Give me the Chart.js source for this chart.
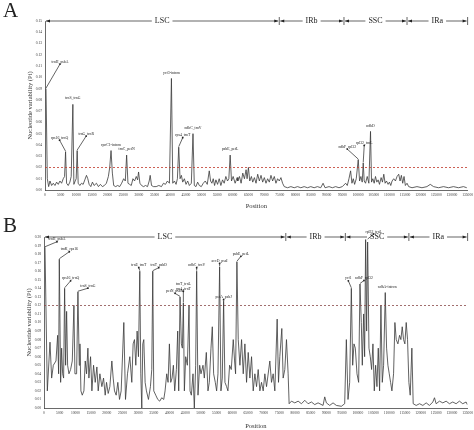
<!DOCTYPE html>
<html><head><meta charset="utf-8">
<script src="https://cdn.jsdelivr.net/npm/chart.js@4.4.0/dist/chart.umd.min.js"></script>
<style>
body{margin:0;background:#fff;width:474px;height:430px;position:relative;overflow:hidden;font-family:"Liberation Serif",serif}
.pl{position:absolute;left:3px;font-size:21px;font-family:"Liberation Serif",serif;color:#222;z-index:2}
.box{position:absolute;left:0;width:474px}
</style></head><body>
<div class="pl" style="top:-2px">A</div>
<div class="pl" style="top:213px">B</div>
<div class="box" style="top:0;height:210px"><canvas id="cA"></canvas></div>
<div class="box" style="top:215px;height:215px"><canvas id="cB"></canvas></div>
<script>
// ---------- Panel A data ----------
const posA=[318,742,1166,1590,2120,2650,3180,3710,4240,4770,5300,5830,6254,6572,6890,7420,7950,8374,8904,9222,9646,9964,10282,10600,11130,11660,12190,12720,13250,13674,14098,14628,15158,15688,16430,17066,17702,18338,18974,19610,20246,20670,21094,21518,21942,22578,23214,23850,24486,25122,25652,26076,26500,27030,27560,28090,28620,29150,29574,29892,30316,30846,31482,32118,32754,33284,33602,34026,34662,35510,36358,37206,37842,38478,39114,39750,40386,40810,41340,41870,42294,42718,43142,43566,43990,44520,45050,45580,46110,46746,47276,47700,48230,48760,49290,49926,50562,51198,51834,52470,52894,53318,53742,54166,54590,55120,55650,56180,56710,57240,57770,58300,58724,59148,59572,60102,60738,61374,61586,62116,62646,63176,63706,64236,64554,64978,65402,65932,66356,66886,67416,67946,68476,69006,69536,70066,70596,71126,71656,72186,72716,73246,73776,74306,74836,75366,75896,76426,77486,78546,79606,80666,81726,82786,83846,84906,85966,87026,88086,88828,89464,90736,91796,92856,93916,94976,96036,96566,97096,97626,98050,98474,98898,99428,100064,100488,100912,101336,101654,101972,102396,102926,103456,103986,104304,104728,105152,105576,106000,106424,106848,107378,107802,108226,108650,109074,109604,110028,110452,110876,111406,111936,112466,112996,113420,113844,114268,114692,115116,115646,116176,117236,118826,120416,122006,123066,124126,125716,127306,128896,130486,132076,133666,134726];
const piA=[0.09,0.01,0.003,0.008,0.004,0.006,0.004,0.007,0.005,0.008,0.006,0.01,0.012,0.034,0.006,0.004,0.007,0.012,0.076,0.005,0.008,0.01,0.035,0.006,0.004,0.006,0.005,0.009,0.013,0.01,0.005,0.003,0.007,0.004,0.006,0.003,0.005,0.003,0.004,0.006,0.012,0.02,0.035,0.015,0.004,0.003,0.004,0.003,0.006,0.01,0.008,0.031,0.006,0.005,0.004,0.01,0.008,0.012,0.009,0.016,0.006,0.004,0.003,0.004,0.003,0.008,0.013,0.004,0.003,0.003,0.004,0.003,0.006,0.005,0.008,0.006,0.099,0.006,0.008,0.005,0.01,0.038,0.01,0.013,0.007,0.01,0.005,0.008,0.004,0.006,0.05,0.004,0.003,0.007,0.004,0.003,0.006,0.008,0.005,0.017,0.008,0.006,0.01,0.004,0.009,0.005,0.01,0.004,0.009,0.006,0.012,0.008,0.01,0.031,0.008,0.012,0.006,0.011,0.008,0.012,0.006,0.015,0.01,0.018,0.01,0.02,0.008,0.012,0.007,0.011,0.006,0.014,0.008,0.013,0.007,0.011,0.006,0.01,0.007,0.013,0.008,0.012,0.006,0.01,0.008,0.011,0.006,0.003,0.002,0.003,0.002,0.003,0.002,0.003,0.002,0.003,0.002,0.003,0.002,0.006,0.002,0.003,0.002,0.003,0.002,0.003,0.006,0.004,0.01,0.017,0.006,0.01,0.005,0.01,0.027,0.008,0.012,0.007,0.024,0.008,0.006,0.012,0.006,0.052,0.007,0.01,0.006,0.012,0.007,0.009,0.005,0.011,0.007,0.014,0.006,0.008,0.005,0.007,0.004,0.008,0.01,0.008,0.012,0.014,0.008,0.013,0.006,0.012,0.004,0.006,0.003,0.002,0.003,0.002,0.003,0.005,0.003,0.002,0.003,0.002,0.003,0.002,0.003,0.002];
const regionsA=[0,74836,95506,115646,135000];
const labelsA=[["trnH_psbA",318,0.09,14,-25,1],["rps16_trnQ",6572,0.034,-6,-12,1],["trnS_trnG",8904,0.076,0,-4,0],["trnG_trnR",10282,0.035,9,-15,1],["rpoC1-intron",21094,0.035,0,-4,0],["trnC_petN",26076,0.031,0,-4,0],["ycf3-intron",40386,0.099,0,-4,0],["rps4_trnT",42718,0.038,4,-10,1],["ndhC_trnV",47276,0.05,0,-4,0],["psbE_petL",59148,0.031,0,-4,0],["ndhF_rpl32",100064,0.027,-11,-11,1],["rpl32_trnL",101654,0.024,1,-18,1],["ndhD",103986,0.052,0,-4,0]];
// ---------- Panel B data ----------
const posB=[318,1060,1908,2438,2968,3816,4346,4664,4876,5300,5618,5936,6254,6572,6890,7208,7526,7950,8480,9010,9540,9858,10388,10812,11236,11448,11766,12190,12720,13144,13568,13992,14310,14840,15264,15794,16324,16854,17278,17808,18444,18974,19504,19928,20458,20988,21624,22048,22472,23002,23532,24062,24592,25440,25970,26606,27348,27984,28408,28832,29256,29680,30104,30528,30846,31164,31482,31800,32224,32648,33284,33920,34344,34662,34980,35616,36252,36888,37524,38160,38584,39114,39538,39962,40386,40810,41234,41658,42188,42612,42930,43354,43778,44096,44414,44732,45156,45686,46216,46534,46958,47488,47912,48336,48654,49078,49608,50032,50668,51092,51728,52258,52682,53212,53636,54060,54590,55014,55438,55968,56392,56816,57240,57664,58194,58618,59148,59678,60314,60738,61056,61480,61904,62434,62964,63494,64024,64554,65084,65614,66144,66674,67204,67734,68264,68794,69324,69854,70384,70914,71974,72504,73034,73564,74306,74730,75154,75790,76214,76744,77274,77804,78122,78864,79924,80984,82044,83104,84164,85224,86284,87344,88934,89464,89994,91054,92114,93174,94764,95824,96354,96884,97414,97944,98368,98792,99216,99746,100276,100700,101124,101442,101866,102184,102502,102820,103138,103562,103986,104410,104834,105258,105682,106106,106530,106954,107378,107802,108226,108756,109180,109604,110028,110452,110876,111406,111830,112254,112784,113314,113738,114162,114586,115010,115434,115858,116282,116706,117236,117660,118614,119674,120734,121794,122854,123914,124444,124974,126034,127094,128154,129214,130274,131334,132394,133454,134514,134900];
const piB=[0.188,0.02,0.077,0.035,0.05,0.055,0.085,0.04,0.174,0.03,0.07,0.04,0.035,0.14,0.05,0.113,0.05,0.04,0.045,0.055,0.12,0.04,0.04,0.136,0.05,0.075,0.02,0.015,0.02,0.055,0.04,0.07,0.035,0.06,0.02,0.05,0.03,0.048,0.02,0.04,0.025,0.035,0.015,0.03,0.017,0.025,0.055,0.035,0.02,0.015,0.03,0.01,0.02,0.1,0.01,0.04,0.06,0.03,0.075,0.08,0.05,0.09,0.06,0.16,0.04,0.0,0.075,0.08,0.03,0.02,0.01,0.025,0.045,0.16,0.02,0.015,0.01,0.008,0.012,0.01,0.02,0.04,0.03,0.075,0.03,0.035,0.05,0.02,0.045,0.09,0.02,0.13,0.075,0.07,0.123,0.02,0.06,0.05,0.12,0.02,0.015,0.04,0.0,0.05,0.16,0.015,0.05,0.04,0.05,0.035,0.065,0.02,0.03,0.07,0.095,0.04,0.03,0.02,0.04,0.165,0.02,0.035,0.125,0.03,0.025,0.02,0.05,0.045,0.08,0.055,0.04,0.171,0.08,0.05,0.08,0.04,0.075,0.03,0.065,0.035,0.06,0.02,0.04,0.025,0.045,0.02,0.03,0.02,0.04,0.025,0.055,0.03,0.04,0.02,0.104,0.03,0.06,0.093,0.035,0.045,0.08,0.04,0.005,0.008,0.006,0.008,0.005,0.009,0.005,0.007,0.004,0.006,0.003,0.013,0.006,0.003,0.006,0.003,0.002,0.005,0.08,0.01,0.03,0.14,0.05,0.075,0.07,0.04,0.03,0.145,0.1,0.05,0.11,0.06,0.197,0.09,0.197,0.07,0.06,0.045,0.075,0.02,0.05,0.025,0.07,0.02,0.12,0.03,0.05,0.135,0.07,0.05,0.04,0.03,0.02,0.04,0.1,0.08,0.075,0.085,0.08,0.095,0.08,0.075,0.1,0.08,0.03,0.015,0.07,0.005,0.003,0.005,0.003,0.006,0.003,0.007,0.012,0.005,0.008,0.006,0.008,0.005,0.007,0.005,0.008,0.005,0.007,0.004];
const regionsB=[0,77062,96036,116282,135000];
const labelsB=[["trnH_psbA",318,0.188,12,-6,1],["trnK_rps16",4876,0.174,10,-8,1],["rps16_trnQ",6572,0.14,6,-8,1],["trnS_trnG",10812,0.136,10,-4,1],["trnE_trnT",30528,0.16,-1,-4,1],["trnT_psbD",34662,0.16,6,-4,1],["petN_psbM",43354,0.13,-5,-4,1],["trnT_trnL\nrps4_trnT",44414,0.123,0,-12,1],["ndhC_trnV",48654,0.16,0,-4,1],["accD_psaI",55968,0.165,0,-4,1],["petA_psbJ",57240,0.125,0,-2,1],["psbE_petL",61480,0.171,4,-6,1],["ycf1",97944,0.14,-3,-8,1],["ndhF_rpl32",100700,0.145,4,-4,1],["rpl32_trnL",103138,0.197,6,-6,1],["ndhA-intron",108756,0.135,2,-4,0]];
const regionNames=["LSC","IRb","SSC","IRa"];
const xTicksStep=5000;

const serif='"Liberation Serif", serif';
function pts(p,v){return p.map((x,i)=>({x:x,y:v[i]}));}

function mkPlugin(regions,labels,thr,thrColor){
 return {id:'deco',afterDatasetsDraw(ch){
  const c=ch.ctx,a=ch.chartArea,xs=ch.scales.x,ys=ch.scales.y;
  c.save();
  const ty=ys.getPixelForValue(thr);
  c.strokeStyle=thrColor;c.lineWidth=0.8;c.setLineDash([2,2]);
  c.beginPath();c.moveTo(a.left,ty);c.lineTo(a.right,ty);c.stroke();c.setLineDash([]);
  const y0=a.top;c.strokeStyle='#222';c.fillStyle='#222';c.lineWidth=0.7;
  for(let i=0;i<4;i++){
   const x1=xs.getPixelForValue(regions[i]),x2=xs.getPixelForValue(regions[i+1]);
   c.beginPath();c.moveTo(x1+1,y0);c.lineTo(x2-1,y0);c.stroke();
   [[x1+1,1],[x2-1,-1]].forEach(([x,d])=>{c.beginPath();c.moveTo(x,y0);c.lineTo(x+4*d,y0-1.5);c.lineTo(x+4*d,y0+1.5);c.closePath();c.fill();});
   c.font='8px '+serif;const t=regionNames[i],w=c.measureText(t).width,m=(x1+x2)/2;
   c.fillStyle='#fff';c.fillRect(m-w/2-3,y0-5,w+6,10);c.fillStyle='#222';
   c.textAlign='center';c.textBaseline='middle';c.fillText(t,m,y0);
  }
  for(let i=1;i<5;i++){const x=xs.getPixelForValue(regions[i]);c.beginPath();c.moveTo(x,y0-4);c.lineTo(x,y0+4);c.stroke();}
  c.font='3.8px '+serif;c.textAlign='center';c.textBaseline='bottom';
  labels.forEach(([t,px,v,dx,dy,arr])=>{
   const x=xs.getPixelForValue(px),y=ys.getPixelForValue(v);
   const lx=x+dx,ly=y+dy;
   t.split('\n').reverse().forEach((s,k)=>c.fillText(s,lx,ly-k*5));
   if(arr){c.beginPath();c.moveTo(lx,ly+0.5);c.lineTo(x,y-0.5);c.stroke();
     c.beginPath();c.arc(lx,ly+0.5,0.9,0,7);c.fill();}
  });
  c.restore();
 }};
}

function mk(id,pos,vals,ymax,left,yw,topPad,xh,regions,labels,thr,thrColor){
 return new Chart(document.getElementById(id),{
  type:'line',
  data:{datasets:[{data:pts(pos,vals),borderColor:'#3a3a3a',borderWidth:0.8,pointRadius:0,tension:0,fill:false}]},
  options:{responsive:true,maintainAspectRatio:false,animation:false,
   layout:{padding:{top:topPad,right:4,left:left,bottom:0}},
   plugins:{legend:{display:false},tooltip:{enabled:false}},
   scales:{
    x:{type:'linear',min:0,max:135000,grid:{display:false,drawTicks:true,tickLength:2,tickColor:'#555'},border:{color:'#444',width:0.8},
       ticks:{stepSize:xTicksStep,autoSkip:false,maxRotation:0,padding:1,font:{size:3.6,family:serif},color:'#333',callback:v=>String(v)},
       title:{display:true,text:'Position',font:{size:6.5,family:serif},color:'#333',padding:{top:0,bottom:0}},
       afterFit:s=>{s.height=xh;}},
    y:{min:0,max:ymax,grid:{display:false,tickLength:2,tickColor:'#555'},border:{color:'#444',width:0.8},
       ticks:{stepSize:0.01,autoSkip:false,padding:1,font:{size:3.6,family:serif},color:'#333',callback:v=>v.toFixed(2)},
       title:{display:true,text:'Nucleotide variability (Pi)',font:{size:6.5,family:serif},color:'#333',padding:{top:0,bottom:2}},
       afterFit:s=>{s.width=yw;}}
   }},
  plugins:[mkPlugin(regions,labels,thr,thrColor)]
 });
}
mk('cA',posA,piA,0.15,26,19,21,20,regionsA,labelsA,0.02,'#c0392b');
mk('cB',posB,piB,0.20,25,19,22,22,regionsB,labelsB,0.12,'#8a4a4a');
</script></body></html>
